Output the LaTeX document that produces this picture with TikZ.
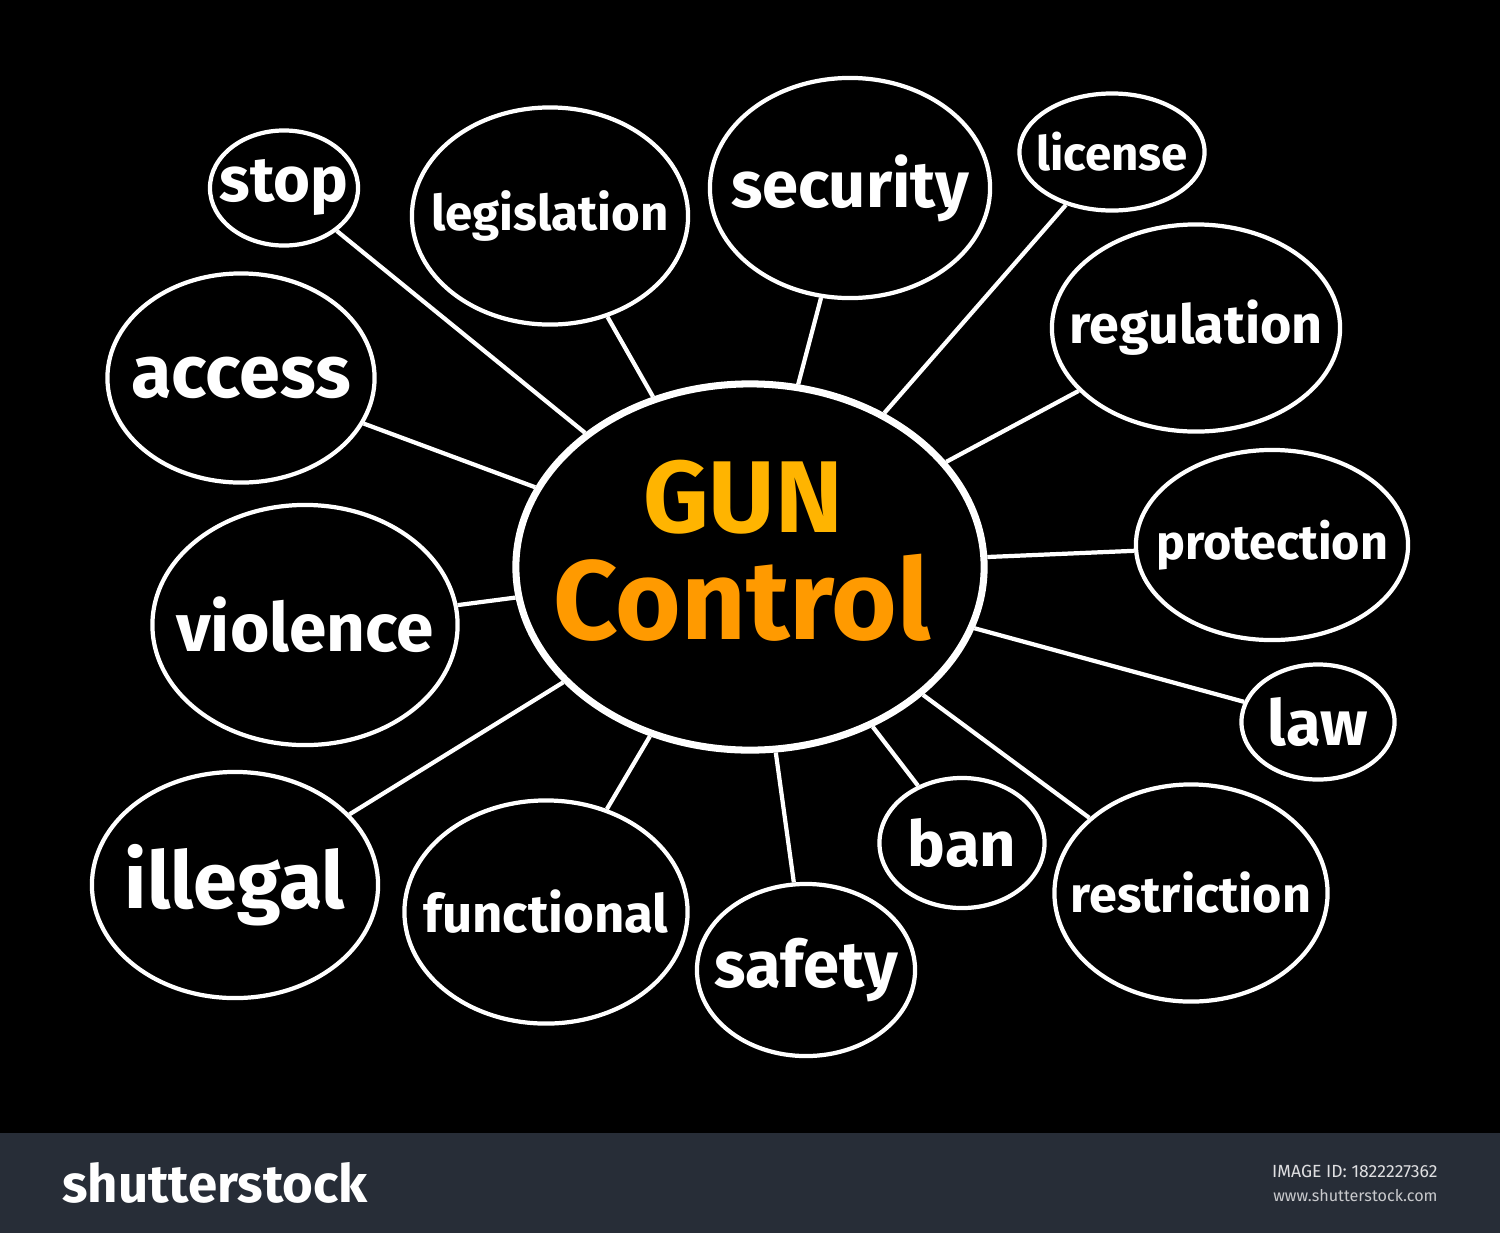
\documentclass[tikz,border=0pt]{standalone}
\usepackage{fontspec}
\setmainfont{Fira Sans}
\usetikzlibrary{shapes.geometric}

\definecolor{footbar}{HTML}{272D37}
\definecolor{gunyellow}{HTML}{FFB400}
\definecolor{ctrlorange}{HTML}{FF9A00}

\begin{document}
\begin{tikzpicture}[x=0.01cm,y=-0.01cm,
       topic/.style={
         ellipse,
         draw=white,
         line width=1.2pt,
         inner sep=0pt},
       word/.style={
         text=white,
         font=\bfseries\fontsize{#1}{#1}\selectfont},
       link/.style={draw=white, line width=1.2pt}
      ]
      \fill[black] (0,0) rectangle (1500,1233);
      \useasboundingbox (0,0) rectangle (1500,1233);

      % centre
      \node[ellipse, draw=white, line width=2pt, inner sep=0pt,
            minimum width=4.68cm, minimum height=3.66cm] (GC) at (750,567) {};
      \node[font=\bfseries\fontsize{29}{29}\selectfont, text=gunyellow] (GUN) at (743,497) {GUN};
      \node[font=\bfseries\fontsize{32}{32}\selectfont, text=ctrlorange] (CTRL) at (742,598) {Control};

      % topics
      \node[topic, minimum width=1.48cm, minimum height=1.15cm, label={[word=18]center:stop}] (stop) at (284,188) {};
      \node[topic, minimum width=2.76cm, minimum height=2.17cm, label={[word=14]center:legislation}] (legis) at (550,216) {};
      \node[topic, minimum width=2.80cm, minimum height=2.20cm, label={[word=18.5]center:security}] (secur) at (850,188) {};
      \node[topic, minimum width=1.85cm, minimum height=1.17cm, label={[word=13.5]center:license}] (licen) at (1112,152) {};
      \node[topic, minimum width=2.88cm, minimum height=2.07cm, label={[word=15.3]center:regulation}] (regul) at (1196,328) {};
      \node[topic, minimum width=2.67cm, minimum height=2.09cm, label={[word=21]center:access}] (acces) at (241,378) {};
      \node[topic, minimum width=2.72cm, minimum height=1.90cm, label={[word=13.8]center:protection}] (prote) at (1272,545) {};
      \node[topic, minimum width=3.05cm, minimum height=2.40cm, label={[word=19.2]center:violence}] (viole) at (305,625) {};
      \node[topic, minimum width=1.53cm, minimum height=1.15cm, label={[word=18]center:law}] (law) at (1318,722) {};
      \node[topic, minimum width=2.86cm, minimum height=2.26cm, label={[word=22.5]center:illegal}] (illeg) at (235,885) {};
      \node[topic, minimum width=2.83cm, minimum height=2.23cm, label={[word=15]center:functional}] (funct) at (546,912) {};
      \node[topic, minimum width=2.18cm, minimum height=1.72cm, label={[word=18.5]center:safety}] (safet) at (806,970) {};
      \node[topic, minimum width=1.65cm, minimum height=1.30cm, label={[word=18]center:ban}] (ban) at (962,843) {};
      \node[topic, minimum width=2.73cm, minimum height=2.17cm, label={[word=14.3]center:restriction}] (restr) at (1191,893) {};

      % links
      \foreach \t in {stop,legis,secur,licen,regul,acces,prote,viole,law,illeg,funct,safet,ban,restr}
        \draw[link] (GC) -- (\t);

      % footer
      \fill[footbar] (0,1133) rectangle (1500,1233);
      \node[anchor=west, text=white, font=\bfseries\fontsize{15}{15}\selectfont] (logo) at (50,1183) {shutterstock};
      \node[anchor=east, text=white!85!footbar, font=\fontsize{5}{5}\selectfont] (imgid) at (1450,1171) {IMAGE ID: 1822227362};
      \node[anchor=east, text=white!75!footbar, font=\fontsize{4.6}{4.6}\selectfont] (www) at (1450,1196) {www.shutterstock.com};
\end{tikzpicture}
\end{document}
